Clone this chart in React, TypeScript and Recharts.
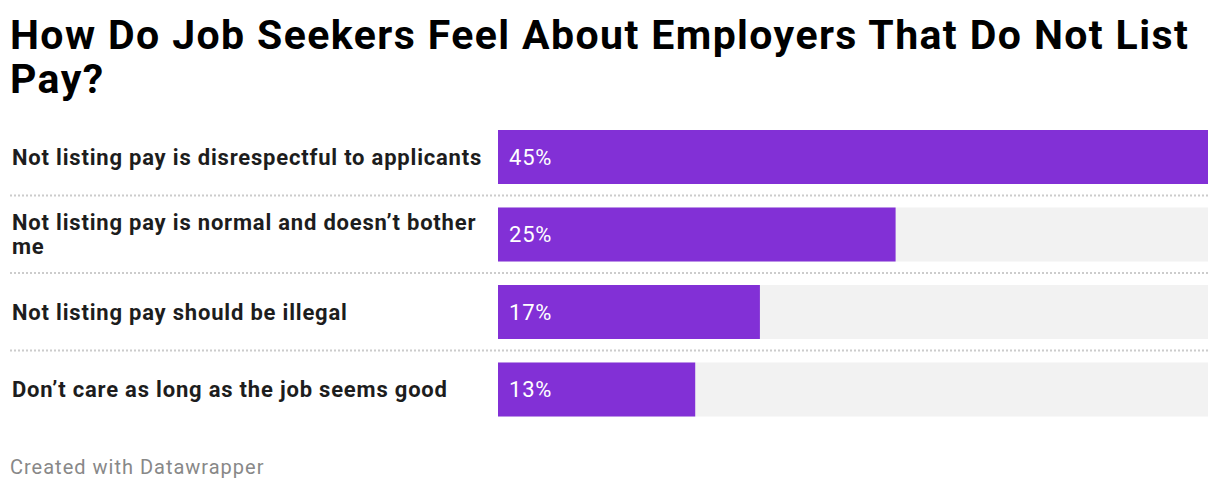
import { Bar, BarChart, LabelList, XAxis, YAxis } from "recharts";

// answers and share of respondents (%), bar lengths
const categories = [
  "Not listing pay is disrespectful to applicants",
  "Not listing pay is normal and doesn’t bother me",
  "Not listing pay should be illegal",
  "Don’t care as long as the job seems good",
];
const shares = [45, 25.2, 16.6, 12.5];

const data = categories.map((label, i) => ({ label, value: shares[i] }));

const BAR_COLOR = "#8230d6";
const TRACK_COLOR = "#f2f2f2";
const SEP_COLOR = "#cccccc";
const FONT = "Roboto, sans-serif";

const W = 1220;
const H = 492;

const LABEL_SIZE = 22;
const LABEL_SPACING = 0.8;
const LABEL_LINE = 24;
const LABEL_MAX_W = 480;

// canvas measuring so the wrap accounts for letter-spacing too
const ctx = document.createElement("canvas").getContext("2d");

function wrapWords(text: string): string[] {
  if (!ctx) return [text];
  ctx.font = `700 ${LABEL_SIZE}px Roboto`;
  const measure = (s: string) => ctx.measureText(s).width + LABEL_SPACING * s.length;
  const lines: string[] = [];
  let cur = "";
  for (const w of text.split(" ")) {
    const next = cur ? cur + " " + w : w;
    if (cur && measure(next) > LABEL_MAX_W) {
      lines.push(cur);
      cur = w;
    } else {
      cur = next;
    }
  }
  if (cur) lines.push(cur);
  return lines;
}

function CategoryTick(props: any) {
  const { y, payload } = props;
  const lines = wrapWords(payload.value);
  const first = y - ((lines.length - 1) * LABEL_LINE) / 2 + LABEL_SIZE * 0.355;
  return (
    <text
      x={12}
      y={first}
      fill="#1d1d1d"
      style={{ fontFamily: FONT, fontWeight: 700, fontSize: LABEL_SIZE, letterSpacing: LABEL_SPACING }}
    >
      {lines.map((l, i) => (
        <tspan key={i} x={12} dy={i === 0 ? 0 : LABEL_LINE}>
          {l}
        </tspan>
      ))}
    </text>
  );
}

// gray track behind each bar plus the dotted row separator under it
function Track(props: any) {
  const { x, y, width, height, index } = props;
  const last = index === data.length - 1;
  return (
    <g>
      <rect x={x} y={y} width={width} height={height} fill={TRACK_COLOR} />
      {!last && (
        <line
          x1={10}
          x2={x + width}
          y1={y + height + 11.5}
          y2={y + height + 11.5}
          stroke={SEP_COLOR}
          strokeWidth={2}
          strokeDasharray="2 2"
        />
      )}
    </g>
  );
}

function ValueLabel(props: any) {
  const { x, y, height, value } = props;
  return (
    <text
      x={x + 11}
      y={y + height / 2 + LABEL_SIZE * 0.355}
      fill="#ffffff"
      style={{ fontFamily: FONT, fontSize: 22, letterSpacing: 0.8 }}
    >
      {Math.round(value)}%
    </text>
  );
}

export default function App() {
  return (
    <div
      style={{
        position: "absolute",
        left: 0,
        top: 0,
        width: W,
        height: H,
        background: "#fff",
        fontFamily: FONT,
      }}
    >
      <BarChart
        width={W}
        height={H}
        data={data}
        layout="vertical"
        margin={{ top: 118, right: 12, bottom: 64, left: 10 }}
      >
        <XAxis type="number" domain={[0, "dataMax"]} hide />
        <YAxis
          type="category"
          dataKey="label"
          width={488}
          axisLine={false}
          tickLine={false}
          tick={<CategoryTick />}
        />
        <Bar
          dataKey="value"
          fill={BAR_COLOR}
          barSize={54}
          background={(p: any) => <Track {...p} />}
          isAnimationActive={false}
        >
          <LabelList dataKey="value" content={<ValueLabel />} />
        </Bar>
      </BarChart>
      <div
        style={{
          position: "absolute",
          left: 10,
          top: 13,
          width: 1205,
          fontSize: 41,
          lineHeight: "44px",
          fontWeight: 700,
          letterSpacing: 1.4,
          color: "#000",
        }}
      >
        How Do Job Seekers Feel About Employers That Do Not List Pay?
      </div>
      <div
        style={{
          position: "absolute",
          left: 10,
          top: 457,
          fontSize: 20,
          lineHeight: "20px",
          letterSpacing: 1,
          color: "#888888",
        }}
      >
        Created with Datawrapper
      </div>
    </div>
  );
}
